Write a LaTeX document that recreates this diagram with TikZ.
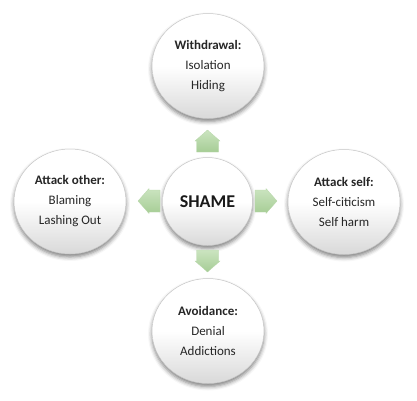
\documentclass[tikz,border=0pt]{standalone}
\usepackage{fontspec}
\setmainfont{Carlito}
\usetikzlibrary{shapes.geometric,shadows.blur}
\definecolor{txt}{HTML}{262626}
\definecolor{grn}{HTML}{A6CD95}
\definecolor{grnL}{HTML}{CBE4C0}
\begin{document}
\begin{tikzpicture}[x=1pt,y=-1pt,
  bubble/.style={ellipse, draw=black!22, line width=0.5pt,
    top color=white, bottom color=black!15, middle color=white,
    blur shadow={shadow xshift=0pt, shadow yshift=-3pt, shadow blur radius=4pt, shadow opacity=50},
    minimum width=112pt, minimum height=105pt, inner sep=0pt, align=center,
    font=\fontsize{13}{20}\selectfont, text=txt},
  core/.style={bubble, minimum width=90pt, minimum height=88pt, font=\fontsize{18}{20}\selectfont\bfseries, text=black!90},
  pentfill/.style={top color=grnL, bottom color=grn, draw=grn!80, line width=0.3pt},
  pent/.pic={\path[pentfill] (-11,11) -- (11,11) -- (11,0) -- (12.5,0) -- (0,-11) -- (-12.5,0) -- (-11,0) -- cycle;}
]
\useasboundingbox (0,0) rectangle (417,400);
\node[bubble] (top) at (208,66) {\textbf{Withdrawal:}\\Isolation\\Hiding};
\node[bubble] (left) at (70,201.5) {\textbf{Attack other:}\\Blaming\\Lashing Out};
\node[bubble] (right) at (344,202) {\textbf{Attack self:}\\Self-citicism\\Self harm};
\node[bubble] (bottom) at (208,331) {\textbf{Avoidance:}\\Denial\\Addictions};
\node[core] (shame) at (207.5,201.5) {SHAME};
\pic at (207.5,141) {pent};
\pic[rotate=180] at (207.5,261) {pent};
\pic[rotate=90] at (149,201) {pent};
\pic[rotate=-90] at (266,201) {pent};
\end{tikzpicture}
\end{document}
